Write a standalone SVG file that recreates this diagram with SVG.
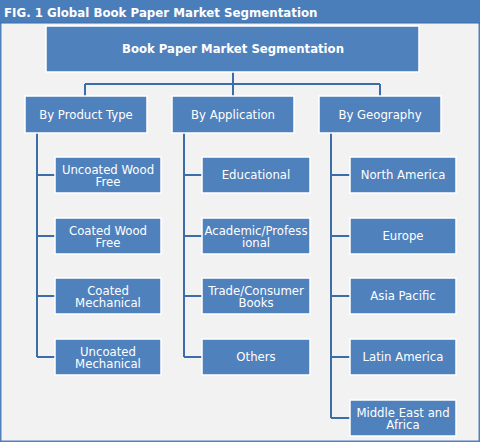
<svg xmlns="http://www.w3.org/2000/svg" width="480" height="442" viewBox="0 0 480 442">
<style>
.box{fill:#4f81bd;stroke:#ffffff;stroke-width:1.5}
.t{font-family:"DejaVu Sans",Verdana,sans-serif;font-size:11.7px;fill:#ffffff;text-anchor:middle}
.b{font-weight:bold}
.ln{fill:none;stroke:#3d6da8;stroke-width:2}
</style>
<rect x="0.75" y="0.75" width="478.5" height="440.5" fill="#f2f2f2" stroke="#4f81bd" stroke-width="1.5"/>
<rect x="0" y="0" width="480" height="23" fill="#4a7ebb"/>
<line x1="0" y1="23" x2="480" y2="23" stroke="#3d6da8" stroke-width="1"/>
<text x="4" y="17" class="t b" style="text-anchor:start;font-size:11.8px">FIG. 1 Global Book Paper Market Segmentation</text>

<g id="connectors">
<path class="ln" d="M233 72V84M85 84H380M85 84V96M233 84V96M380 84V96"/>
<path class="ln" d="M37 133V357M37 175H55M37 236H55M37 296H55M37 357H55"/>
<path class="ln" d="M184 133V357M184 175H202M184 236H202M184 296H202M184 357H202"/>
<path class="ln" d="M331 133V418M331 175H350M331 236H350M331 296H350M331 357H350M331 418H350"/>
</g>

<g id="root"><rect class="box" x="46" y="26" width="373" height="46"/><text class="t b" x="233" y="53">Book Paper Market Segmentation</text></g>

<g id="cat-product"><rect class="box" x="25" y="96" width="122" height="37"/><text class="t" x="86" y="119">By Product Type</text></g>
<g id="cat-application"><rect class="box" x="172" y="96" width="122" height="37"/><text class="t" x="233" y="119">By Application</text></g>
<g id="cat-geography"><rect class="box" x="319" y="96" width="122" height="37"/><text class="t" x="380" y="119">By Geography</text></g>

<g id="p1"><rect class="box" x="55" y="157" width="106" height="36"/><text class="t" x="108" y="173.5">Uncoated Wood</text><text class="t" x="108" y="186">Free</text></g>
<g id="p2"><rect class="box" x="55" y="218" width="106" height="36"/><text class="t" x="108" y="234.5">Coated Wood</text><text class="t" x="108" y="247">Free</text></g>
<g id="p3"><rect class="box" x="55" y="278" width="106" height="36"/><text class="t" x="108" y="294.5">Coated</text><text class="t" x="108" y="307">Mechanical</text></g>
<g id="p4"><rect class="box" x="55" y="339" width="106" height="36"/><text class="t" x="108" y="355.5">Uncoated</text><text class="t" x="108" y="368">Mechanical</text></g>

<g id="a1"><rect class="box" x="202" y="157" width="108" height="36"/><text class="t" x="256" y="179">Educational</text></g>
<g id="a2"><rect class="box" x="202" y="218" width="108" height="36"/><text class="t" x="256" y="234.5">Academic/Profess</text><text class="t" x="256" y="247">ional</text></g>
<g id="a3"><rect class="box" x="202" y="278" width="108" height="36"/><text class="t" x="256" y="294.5">Trade/Consumer</text><text class="t" x="256" y="307">Books</text></g>
<g id="a4"><rect class="box" x="202" y="339" width="108" height="36"/><text class="t" x="256" y="361">Others</text></g>

<g id="g1"><rect class="box" x="350" y="157" width="106" height="36"/><text class="t" x="403" y="179">North America</text></g>
<g id="g2"><rect class="box" x="350" y="218" width="106" height="36"/><text class="t" x="403" y="240">Europe</text></g>
<g id="g3"><rect class="box" x="350" y="278" width="106" height="36"/><text class="t" x="403" y="300">Asia Pacific</text></g>
<g id="g4"><rect class="box" x="350" y="339" width="106" height="36"/><text class="t" x="403" y="361">Latin America</text></g>
<g id="g5"><rect class="box" x="350" y="400" width="106" height="36"/><text class="t" x="403" y="416.5">Middle East and</text><text class="t" x="403" y="429">Africa</text></g>
</svg>
